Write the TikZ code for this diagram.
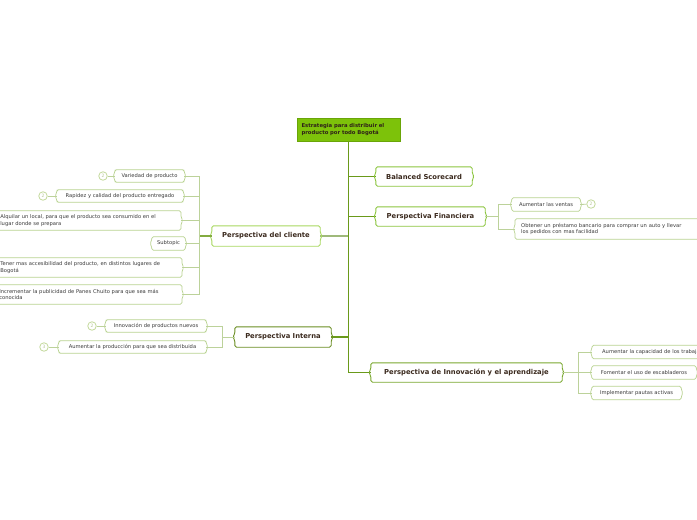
\documentclass[tikz,border=0pt]{standalone}
\usepackage{fontspec}
\setmainfont{DejaVu Sans}
\definecolor{rootfill}{HTML}{7DC20A}
\definecolor{trunk}{HTML}{6A9A1A}
\definecolor{maintext}{HTML}{3B2A1E}
\definecolor{subtext}{HTML}{3A3A3A}
\definecolor{bdA}{HTML}{8CC63F}
\definecolor{bdCli}{HTML}{A8D860}
\definecolor{bdInt}{HTML}{6B8E23}
\definecolor{bdInn}{HTML}{7AA830}
\definecolor{subbd}{HTML}{B9D391}
\definecolor{subln}{HTML}{BCD29A}
\definecolor{cliln}{HTML}{9FB97A}
\definecolor{badge}{HTML}{C3D99B}
\newcommand\bshape[3]{%
  \draw[#2,line width=#3,rounded corners=1.6pt]
    ([xshift=-2pt]#1.west) -- ([yshift=3pt]#1.west) -- (#1.north west) -- (#1.north east)
    -- ([yshift=3pt]#1.east) -- ([xshift=2pt]#1.east) -- ([yshift=-3pt]#1.east)
    -- (#1.south east) -- (#1.south west) -- ([yshift=-3pt]#1.west) -- cycle;}
\tikzset{
  mainnode/.style={font=\fontsize{6.8}{7.5}\selectfont\bfseries, text=maintext, inner sep=0pt, minimum height=19pt},
  subnode/.style={font=\fontsize{5.2}{6.6}\selectfont, text=subtext, inner sep=0pt, minimum height=12pt},
  badgenode/.style={circle, draw=badge, line width=0.8pt, minimum size=8.5pt, inner sep=0pt, font=\fontsize{4.5}{5}\selectfont, text=badge!80!gray},
  trunkline/.style={draw=trunk, line width=1.1pt},
  subline/.style={draw=subln, line width=0.8pt},
}
\begin{document}
\begin{tikzpicture}[x=1pt,y=-1pt]
\useasboundingbox (0,0) rectangle (697,520);
\clip (0,0) rectangle (697,520);
\fill[white] (0,0) rectangle (697,520);
% root
\node[fill=rootfill, draw=rootfill!85!black, line width=0.3pt, minimum width=103pt, minimum height=23pt, inner sep=0pt,
  text width=94pt, align=left, font=\fontsize{5.3}{6.8}\selectfont\bfseries, text=maintext!80!black] (root) at (348.5,129.5)
  {Estrategia para distribuir el\\producto por todo Bogotá};
% main nodes
\node[mainnode, minimum width=96pt] (bal) at (424,176.5) {Balanced Scorecard};
\node[mainnode, minimum width=109pt] (fin) at (430.5,216.5) {Perspectiva Financiera};
\node[mainnode, minimum width=191pt] (inn) at (466.5,372.5) {Perspectiva de Innovación y el aprendizaje};
\node[mainnode, minimum width=108pt, minimum height=20pt] (cli) at (266,236) {Perspectiva del cliente};
\node[mainnode, minimum width=96pt, minimum height=20pt] (int) at (283,337) {Perspectiva Interna};
% trunk
\draw[trunkline] (root.south) |- (inn.west);
\draw[trunkline] (root.south) |- (bal.west);
\draw[trunkline] (root.south) |- (fin.west);
\draw[draw=cliln, line width=1.1pt] (root.south) |- (cli.east);
\draw[trunkline] (root.south) |- (int.east);
\bshape{bal}{bdA}{0.9pt}
\bshape{fin}{bdA}{0.9pt}
\bshape{inn}{bdInn}{0.9pt}
\bshape{cli}{bdCli}{0.9pt}
\bshape{int}{bdInt}{0.9pt}
% cliente subtopics
\node[subnode, minimum width=69pt] (var) at (149.5,176) {Variedad de producto};
\node[subnode, minimum width=126pt] (rap) at (120,196) {Rapidez y calidad del producto entregado};
\node[subnode, minimum width=187pt, minimum height=19pt, text width=174pt, align=left, anchor=east] (alq) at (181,220.5)
  {Alquilar un local, para que el producto sea consumido en el\\lugar donde se prepara};
\node[subnode, minimum width=33pt, minimum height=13pt] (stp) at (168.5,243.5) {Subtopic};
\node[subnode, minimum width=188pt, minimum height=19pt, text width=175pt, align=left, anchor=east] (ten) at (182,267.5)
  {Tener mas accesibilidad del producto, en distintos lugares de\\Bogotá};
\node[subnode, minimum width=189pt, minimum height=19pt, text width=176pt, align=left, anchor=east] (inc) at (182,294.5)
  {Incrementar la publicidad de Panes Chuito para que sea más\\conocida};
\coordinate (jc) at (199,236);
\draw[draw=trunk!70!subln, line width=1.1pt] (cli.west) -- (jc);
\foreach \n in {var,rap,alq,stp,ten,inc} { \draw[subline] (jc) |- (\n.east); \bshape{\n}{subbd}{0.7pt} }
\node[badgenode] (b1) at (103,176) {2};
\node[badgenode] (b2) at (43,196) {2};
\draw[subline] (b1) -- (var.west);
\draw[subline] (b2) -- (rap.west);
% interna subtopics
\node[subnode, minimum width=100pt] (ino) at (156,326) {Innovación de productos nuevos};
\node[subnode, minimum width=147pt] (aum) at (132.5,347) {Aumentar la producción para que sea distribuida};
\coordinate (ji) at (222,337);
\draw[subline] (int.west) -- (ji);
\foreach \n in {ino,aum} { \draw[subline] (ji) |- (\n.east); \bshape{\n}{subbd}{0.7pt} }
\node[badgenode] (b3) at (92,326) {2};
\node[badgenode] (b4) at (44,347) {3};
\draw[subline] (b3) -- (ino.west);
\draw[subline] (b4) -- (aum.west);
% financiera subtopics
\node[subnode, minimum width=68pt, minimum height=13pt] (ven) at (546,204.5) {Aumentar las ventas};
\node[subnode, minimum width=192pt, minimum height=20pt, text width=180pt, align=left, anchor=west] (pre) at (515,229)
  {Obtener un préstamo bancario para comprar un auto y llevar\\los pedidos con mas facilidad};
\coordinate (jf) at (498,216.5);
\draw[subline] (fin.east) -- (jf);
\foreach \n in {ven,pre} { \draw[subline] (jf) |- (\n.west); \bshape{\n}{subbd}{0.7pt} }
\node[badgenode] (b5) at (591,204) {2};
\draw[subline] (ven.east) -- (b5);
% innovacion subtopics
\node[subnode, minimum width=125pt, minimum height=13pt, anchor=west] (cap) at (592,352) {\hspace*{7pt}Aumentar la capacidad de los trabajadores\hfill};
\node[subnode, minimum width=104pt, minimum height=13pt] (fom) at (644,372.5) {Fomentar el uso de escabladeros};
\node[subnode, minimum width=89pt, minimum height=13pt] (imp) at (636.5,393) {Implementar pautas activas};
\coordinate (jn) at (578,372.5);
\draw[subline] (inn.east) -- (jn);
\foreach \n in {cap,fom,imp} { \draw[subline] (jn) |- (\n.west); \bshape{\n}{subbd}{0.7pt} }
\end{tikzpicture}
\end{document}
